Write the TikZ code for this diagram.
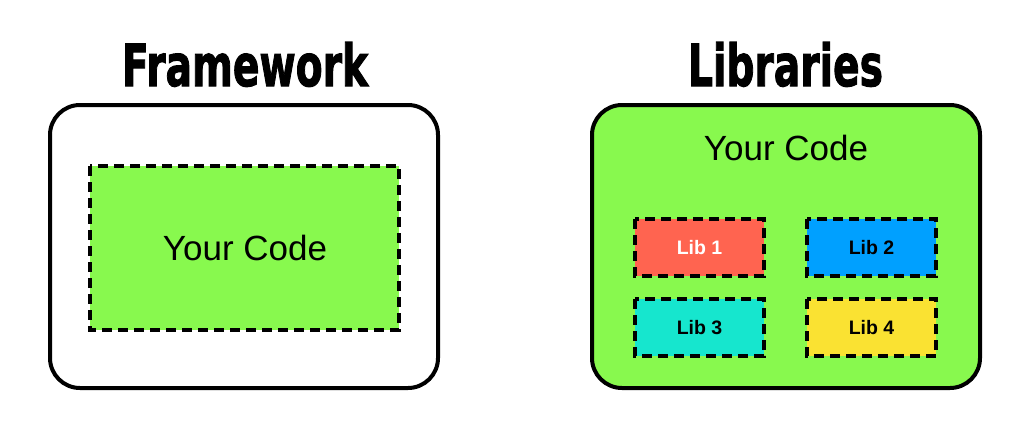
\documentclass[tikz,border=0pt]{standalone}
\usepackage{fontspec}
\setmainfont{Liberation Sans}
\newfontfamily\titlefont[FakeBold=2]{DejaVu Sans}
\definecolor{codegreen}{HTML}{88F94E}
\definecolor{libred}{HTML}{FF6450}
\definecolor{libblue}{HTML}{00A0FF}
\definecolor{libcyan}{HTML}{16E6CE}
\definecolor{libyellow}{HTML}{FAE232}
\tikzset{
  panel/.style={draw=black, line width=4pt, rounded corners=30pt},
  dashbox/.style={draw=black, line width=4.5pt, dash pattern=on 10pt off 6pt},
  title/.style={inner sep=0pt, anchor=base},
  codetext/.style={font=\fontsize{35}{40}\selectfont, inner sep=0pt},
  libtext/.style={font=\fontsize{19.5}{23}\selectfont\bfseries, inner sep=0pt},
}
\begin{document}
\begin{tikzpicture}[x=1pt,y=-1pt]
\useasboundingbox (0,0) rectangle (1024,423);
% titles
\node[title] (tfw) at (245,86) {\resizebox{246pt}{44pt}{\titlefont\bfseries Framework}};
\node[title] (tlib) at (785.5,86) {\resizebox{195pt}{44pt}{\titlefont\bfseries Libraries}};
% framework panel
\draw[panel, fill=white] (50,105) rectangle (438,388);
\draw[dashbox, fill=codegreen] (90,166) rectangle (399,330);
\node[codetext] (fwcode) at (245,248) {Your Code};
% libraries panel
\draw[panel, fill=codegreen] (592,105) rectangle (980,388);
\node[codetext] (libcode) at (786,148) {Your Code};
\draw[dashbox, fill=libred] (635,219) rectangle (764,276);
\draw[dashbox, fill=libblue] (807,219) rectangle (936,276);
\draw[dashbox, fill=libcyan] (635,299) rectangle (764,356);
\draw[dashbox, fill=libyellow] (807,299) rectangle (936,356);
\node[libtext, text=white] (l1) at (699.5,247.5) {Lib 1};
\node[libtext] (l2) at (871.5,247.5) {Lib 2};
\node[libtext] (l3) at (699.5,327.5) {Lib 3};
\node[libtext] (l4) at (871.5,327.5) {Lib 4};
\end{tikzpicture}
\end{document}
